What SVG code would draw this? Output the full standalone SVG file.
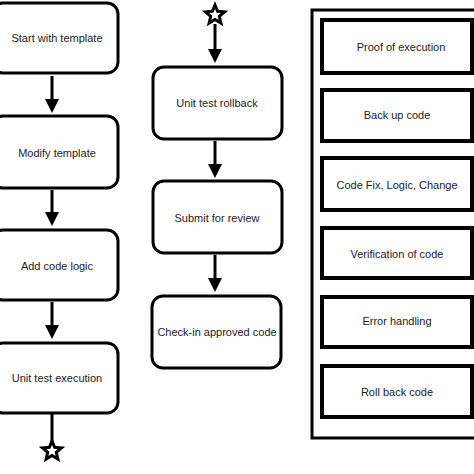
<svg xmlns="http://www.w3.org/2000/svg" width="474" height="474" viewBox="0 0 474 474">
<style>
.rbox{fill:#fff;stroke:#000;stroke-width:3}
.sbox{fill:#fff;stroke:#000;stroke-width:4}
.outer{fill:none;stroke:#000;stroke-width:3}
.lbl{font-family:"Liberation Sans",Arial,sans-serif;font-size:11px;fill:#222;text-anchor:middle;dominant-baseline:central}
.conn{stroke:#000;stroke-width:3;fill:none}
.star{fill:#fff;stroke:#000;stroke-width:3;stroke-linejoin:miter}
</style>
<defs>
<marker id="ah" markerUnits="userSpaceOnUse" markerWidth="16" markerHeight="16" refX="4" refY="7" orient="auto">
<path d="M0,0 L14,7 L0,14 z" fill="#000"/>
</marker>
<path id="starShape" d="M0,-10 L2.65,-3.64 L9.51,-3.09 L4.28,1.39 L5.88,8.09 L0,4.5 L-5.88,8.09 L-4.28,1.39 L-9.51,-3.09 L-2.65,-3.64 Z"/>
</defs>
<rect width="474" height="474" fill="#fff"/>

<g id="connectors">
<line class="conn" x1="52" y1="76" x2="52" y2="103" marker-end="url(#ah)"/>
<line class="conn" x1="52" y1="190" x2="52" y2="216" marker-end="url(#ah)"/>
<line class="conn" x1="52" y1="302" x2="52" y2="329" marker-end="url(#ah)"/>
<line class="conn" x1="52" y1="414" x2="52" y2="442"/>
<line class="conn" x1="215" y1="24" x2="215" y2="53" marker-end="url(#ah)"/>
<line class="conn" x1="215" y1="141" x2="215" y2="168" marker-end="url(#ah)"/>
<line class="conn" x1="215" y1="255" x2="215" y2="282" marker-end="url(#ah)"/>
</g>

<g id="star-bottom"><use href="#starShape" class="star" transform="translate(52,451)"/></g>
<g id="star-top"><use href="#starShape" class="star" transform="translate(215,15)"/></g>

<g id="n-start"><rect class="rbox" x="-8" y="3" width="126" height="70" rx="11"/><text class="lbl" x="57" y="38">Start with template</text></g>
<g id="n-modify"><rect class="rbox" x="-8" y="116" width="126" height="72" rx="11"/><text class="lbl" x="57" y="153">Modify template</text></g>
<g id="n-addcode"><rect class="rbox" x="-8" y="230" width="126" height="70" rx="11"/><text class="lbl" x="57" y="266">Add code logic</text></g>
<g id="n-unittest"><rect class="rbox" x="-8" y="343" width="126" height="70" rx="11"/><text class="lbl" x="57" y="378">Unit test execution</text></g>

<g id="n-rollback"><rect class="rbox" x="153" y="67" width="129" height="72" rx="11"/><text class="lbl" x="217" y="103">Unit test rollback</text></g>
<g id="n-submit"><rect class="rbox" x="153" y="181" width="129" height="72" rx="11"/><text class="lbl" x="217" y="218">Submit for review</text></g>
<g id="n-checkin"><rect class="rbox" x="152" y="296" width="129" height="72" rx="11"/><text class="lbl" x="217" y="332">Check-in approved code</text></g>

<g id="container"><rect class="outer" x="312" y="10" width="170" height="428"/></g>
<g id="r-proof"><rect class="sbox" x="322" y="20" width="150" height="53"/><text class="lbl" x="401" y="47">Proof of execution</text></g>
<g id="r-backup"><rect class="sbox" x="322" y="90" width="150" height="51"/><text class="lbl" x="397" y="115">Back up code</text></g>
<g id="r-codefix"><rect class="sbox" x="322" y="158" width="150" height="52"/><text class="lbl" x="397" y="185">Code Fix, Logic, Change</text></g>
<g id="r-verify"><rect class="sbox" x="322" y="228" width="150" height="50"/><text class="lbl" x="397" y="254">Verification of code</text></g>
<g id="r-error"><rect class="sbox" x="322" y="297" width="150" height="50"/><text class="lbl" x="397" y="321">Error handling</text></g>
<g id="r-rollcode"><rect class="sbox" x="322" y="366" width="150" height="51"/><text class="lbl" x="397" y="392">Roll back code</text></g>
</svg>
